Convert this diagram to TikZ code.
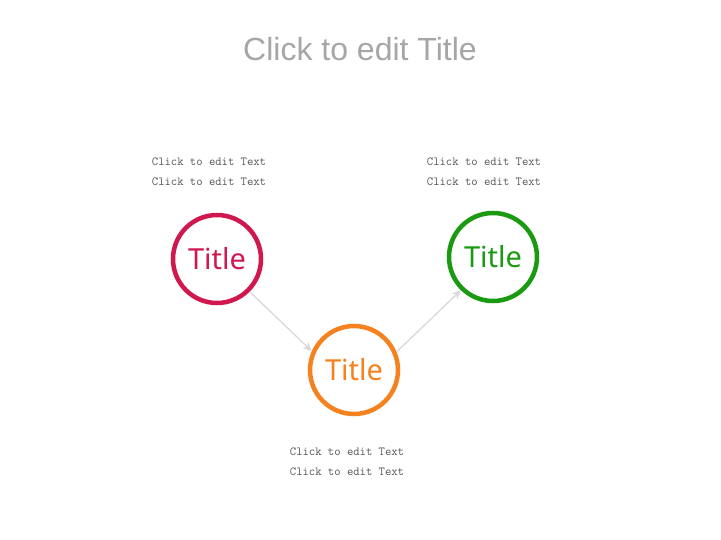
\documentclass[tikz,border=0pt]{standalone}
\usepackage{fontspec}
\setmainfont{Liberation Sans}
\newfontfamily\circfont{Noto Sans}
\setmonofont{Latin Modern Mono}
\usetikzlibrary{arrows.meta}
\definecolor{cred}{HTML}{D0184F}
\definecolor{corange}{HTML}{F5821F}
\definecolor{cgreen}{HTML}{1A9A10}
\definecolor{ttl}{HTML}{A6A6A6}
\definecolor{txt}{HTML}{555555}
\definecolor{conn}{HTML}{D9D9D9}
\tikzset{
  ring/.style={circle, line width=4.5pt, minimum size=88pt, inner sep=0pt, font=\circfont\fontsize{29}{32}\selectfont},
  desc/.style={font=\ttfamily\fontsize{12.3}{20}\selectfont, text=txt, align=left, inner sep=0pt},
  link/.style={draw=conn, line width=1.3pt, -{Stealth[length=9pt,width=8pt]}}
}
\begin{document}
\begin{tikzpicture}[x=1pt,y=-1pt]
\useasboundingbox[fill=white] (0,0) rectangle (721,540);
\node[font=\fontsize{32}{36}\selectfont, text=ttl] (title) at (360,49) {Click to edit Title};
\node[ring, draw=cred, text=cred] (a) at (217,259) {Title};
\node[ring, draw=corange, text=corange] (b) at (354,370) {Title};
\node[ring, draw=cgreen, text=cgreen] (c) at (493,257) {Title};
\node[desc] (ta) at (209,172) {Click to edit Text\\Click to edit Text};
\node[desc] (tb) at (347,462) {Click to edit Text\\Click to edit Text};
\node[desc] (tc) at (484,172) {Click to edit Text\\Click to edit Text};
\draw[link] (a.-45) -- (b.156);
\draw[link] (b.23) -- (c.226);
\end{tikzpicture}
\end{document}
